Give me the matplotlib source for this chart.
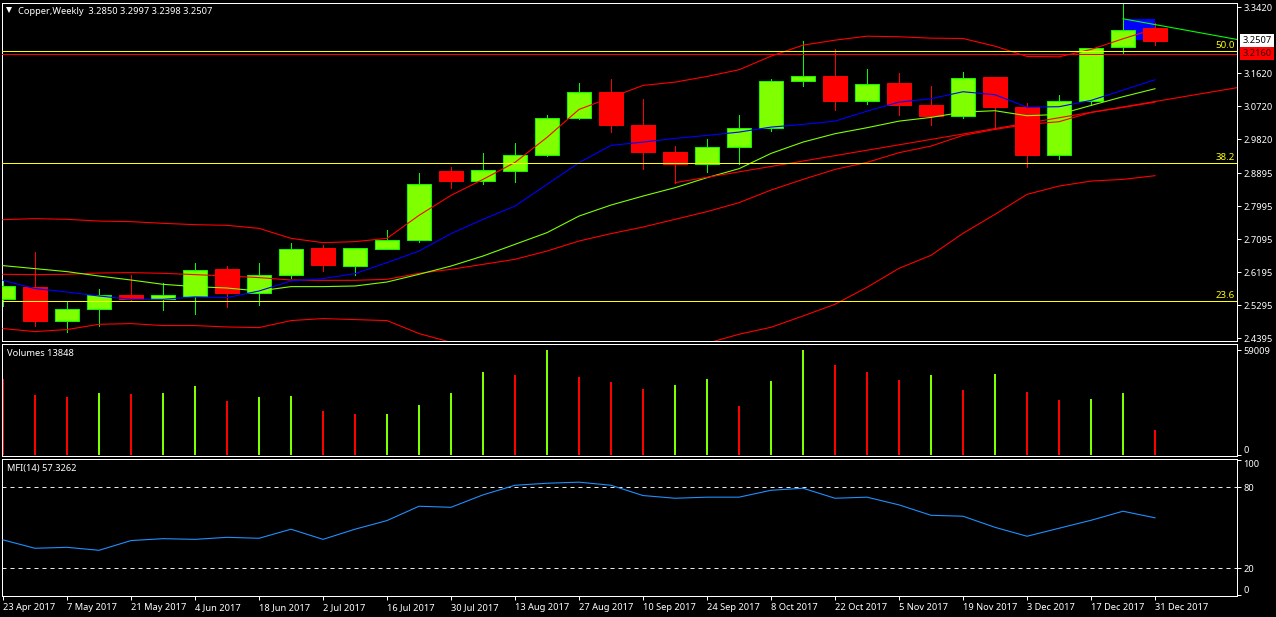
"""
Copper weekly chart, MetaTrader style: candles with moving averages and bands,
volumes and MFI panels.
"""

import numpy as np
import matplotlib
matplotlib.use("Agg")
import matplotlib.pyplot as plt

plt.rcParams["font.family"] = ["Noto Sans", "DejaVu Sans"]

# ── data ─────────────────────────────────────────────────────

opens = [2.5471, 2.5784, 2.4865, 2.5193, 2.5566, 2.5465, 2.5547, 2.6275, 2.5640, 2.6120,
         2.6848, 2.6365, 2.6829, 2.7074, 2.8967, 2.8683, 2.8956, 2.9392, 3.0401, 3.1121,
         3.0221, 2.9485, 2.9147, 2.9610, 3.0128, 3.1410, 3.1557, 3.0865, 3.1347, 3.0766,
         3.0456, 3.1511, 3.0712, 2.9392, 3.0865, 3.2337, 3.2850]
highs = [2.5956, 2.6739, 2.5383, 2.5730, 2.6111, 2.5893, 2.6439, 2.6365, 2.6439, 2.6984,
         2.6930, 2.6867, 2.7339, 2.8893, 2.9076, 2.9458, 2.9730, 3.0475, 3.1347, 3.1475,
         3.0911, 2.9629, 2.9820, 3.0475, 3.1475, 3.2493, 3.2274, 3.1729, 3.1620, 3.1266,
         3.1647, 3.1511, 3.0802, 3.1020, 3.2321, 3.3529, 3.2997]
lows = [2.5274, 2.4729, 2.4565, 2.4729, 2.5438, 2.5165, 2.5056, 2.5247, 2.5302, 2.6030,
        2.6229, 2.6120, 2.6829, 2.7020, 2.8492, 2.8593, 2.8656, 2.9365, 3.0366, 3.0019,
        2.9002, 2.8639, 2.8920, 2.9147, 3.0047, 3.1274, 3.0619, 3.0783, 3.0483, 3.0210,
        3.0401, 3.0112, 2.9065, 2.9283, 3.0747, 3.2165, 3.2398]
closes = [2.5811, 2.4865, 2.5203, 2.5566, 2.5457, 2.5566, 2.6267, 2.5629, 2.6130, 2.6840,
          2.6392, 2.6867, 2.7085, 2.8612, 2.8683, 2.8994, 2.9403, 3.0412, 3.1121, 3.0210,
          2.9466, 2.9147, 2.9621, 3.0139, 3.1421, 3.1557, 3.0865, 3.1339, 3.0756, 3.0447,
          3.1503, 3.0701, 2.9392, 3.0876, 3.2321, 3.2812, 3.2507]

band_upper = [2.7630, 2.7658, 2.7639, 2.7592, 2.7576, 2.7530, 2.7494, 2.7475, 2.7393, 2.7120,
              2.7003, 2.7030, 2.7120, 2.7748, 2.8293, 2.8729, 2.9193, 2.9875, 3.0638, 3.0966,
              3.1293, 3.1383, 3.1538, 3.1721, 3.2092, 3.2392, 3.2528, 3.2637, 3.2621, 3.2583,
              3.2574, 3.2364, 3.2084, 3.2075, 3.2274, 3.2566, 3.2839]
band_lower = [2.4658, 2.4576, 2.4631, 2.4775, 2.4794, 2.4740, 2.4740, 2.4702, 2.4685, 2.4876,
              2.4931, 2.4903, 2.4876, 2.4522, 2.4284, 2.4093, 2.3875, 2.3657, 2.3494, 2.3494,
              2.3684, 2.3957, 2.4257, 2.4503, 2.4693, 2.5002, 2.5321, 2.5784, 2.6302, 2.6657,
              2.7257, 2.7775, 2.8320, 2.8547, 2.8683, 2.8729, 2.8830]
ma_blue = [2.5975, 2.5749, 2.5656, 2.5547, 2.5457, 2.5457, 2.5520, 2.5503, 2.5683, 2.5956,
           2.6021, 2.6158, 2.6458, 2.6774, 2.7249, 2.7639, 2.8001, 2.8593, 2.9185, 2.9657,
           2.9747, 2.9847, 2.9929, 3.0019, 3.0156, 3.0229, 3.0319, 3.0592, 3.0837, 3.0930,
           3.1121, 3.1039, 3.0701, 3.0712, 3.0884, 3.1165, 3.1448]
ma_lime = [2.6376, 2.6294, 2.6212, 2.6092, 2.5983, 2.5866, 2.5803, 2.5765, 2.5683, 2.5803,
           2.5803, 2.5820, 2.5929, 2.6139, 2.6365, 2.6638, 2.6957, 2.7276, 2.7728, 2.8029,
           2.8274, 2.8503, 2.8776, 2.9021, 2.9438, 2.9747, 2.9976, 3.0139, 3.0319, 3.0420,
           3.0565, 3.0603, 3.0466, 3.0502, 3.0747, 3.0985, 3.1203]
ma_red = [2.6139, 2.6130, 2.6139, 2.6174, 2.6185, 2.6166, 2.6130, 2.6092, 2.6049, 2.5983,
          2.5975, 2.5975, 2.6002, 2.6166, 2.6275, 2.6411, 2.6548, 2.6774, 2.7047, 2.7249,
          2.7429, 2.7639, 2.7849, 2.8094, 2.8438, 2.8729, 2.9002, 2.9193, 2.9458, 2.9638,
          2.9929, 3.0093, 3.0229, 3.0303, 3.0556, 3.0693, 3.0837]

fib_levels = [3.2234, 2.9179, 2.5416]
fib_labels = ["50.0", "38.2", "23.6"]
support_level = 3.2160

# trend lines: (bar, price) at each end, both run off to the right edge
trend_red_x = [21, 38.55]
trend_red_y = [2.8639, 3.1230]
trend_green_x = [35, 38.55]
trend_green_y = [3.3112, 3.2550]
blue_box_x = [35, 36]
blue_box_y = [3.2520, 3.3112]

price_ticks = [3.3420, 3.1620, 3.0720, 2.9820, 2.8895, 2.7995, 2.7095, 2.6195, 2.5295, 2.4395]

volumes = [42704, 33714, 32590, 34838, 34276, 34838, 38771, 30343, 32590, 33152,
           24724, 23038, 23100, 28095, 34838, 46638, 44952, 59009, 43828, 41019,
           37085, 39333, 42704, 27533, 41581, 59009, 50571, 46638, 42143, 44952,
           36524, 45514, 35400, 30905, 31466, 34838, 13848]
volume_up = [0, 0, 0, 1, 0, 1, 1, 0, 1, 1, 0, 0, 1, 1, 1, 1, 0, 1, 0, 0,
             0, 1, 1, 0, 1, 1, 0, 0, 0, 1, 0, 1, 0, 0, 1, 1, 0]

mfi = [41.0, 34.8, 35.5, 33.3, 40.5, 41.9, 41.4, 42.9, 42.2, 48.9,
       41.4, 48.9, 55.3, 65.9, 65.1, 74.3, 81.4, 82.9, 83.7, 81.4,
       73.8, 71.8, 72.6, 72.6, 77.7, 79.2, 71.8, 72.6, 66.9, 59.2,
       58.5, 50.3, 43.7, 49.6, 55.5, 62.2, 57.33]
mfi_levels = [80, 20]

date_labels = ["23 Apr 2017", "7 May 2017", "21 May 2017", "4 Jun 2017", "18 Jun 2017",
               "2 Jul 2017", "16 Jul 2017", "30 Jul 2017", "13 Aug 2017", "27 Aug 2017",
               "10 Sep 2017", "24 Sep 2017", "8 Oct 2017", "22 Oct 2017", "5 Nov 2017",
               "19 Nov 2017", "3 Dec 2017", "17 Dec 2017", "31 Dec 2017"]

# ── layout ───────────────────────────────────────────────────

W, H = 1276, 617
RED, LIME, GREEN, BLUE, YELLOW = "#ff0000", "#7fff00", "#00ff00", "#0000ff", "#ffff00"
FS = 6.7
PX = 0.72   # one pixel in points


def add_panel(fig, top, bottom, left=2.5, right=1236.5):
    ax = fig.add_axes([left / W, 1 - bottom / H, (right - left) / W, (bottom - top) / H])
    ax.set_facecolor("black")
    for s in ax.spines.values():
        s.set_color("white")
        s.set_linewidth(PX)
    ax.set_xlim(-0.0156, 38.547)
    ax.set_xticks([])
    ax.yaxis.tick_right()
    ax.tick_params(axis="y", colors="white", labelsize=FS, length=3, width=PX, pad=2)
    return ax


def draw_line(ax, x, y, color, z=5):
    ax.plot(x, y, color=color, lw=0.8, zorder=z)


fig = plt.figure(figsize=(W / 100, H / 100), dpi=100, facecolor="black")
bars = np.arange(len(closes))

# ── price panel ──────────────────────────────────────────────

ax_price = add_panel(fig, 2.5, 341)
ax_price.set_ylim(2.4319, 3.3556)
ax_price.set_yticks(price_ticks, [f"{t:.4f}" for t in price_ticks])

ax_price.fill_between(blue_box_x, blue_box_y[0], blue_box_y[1], color=BLUE, lw=0, zorder=1)

for i in bars:
    is_up = closes[i] >= opens[i]
    wick = GREEN if is_up else RED
    ax_price.vlines(i, lows[i], highs[i], color=wick, lw=PX, antialiased=False, zorder=2)
    body_lo, body_hi = sorted((opens[i], closes[i]))
    ax_price.bar(i, body_hi - body_lo, bottom=body_lo, width=0.77,
                 color=LIME if is_up else RED, edgecolor=wick, linewidth=PX, zorder=3)

draw_line(ax_price, bars, band_upper, RED)
draw_line(ax_price, bars, band_lower, RED)
draw_line(ax_price, bars, ma_red, RED)
draw_line(ax_price, bars, ma_lime, LIME)
draw_line(ax_price, bars, ma_blue, BLUE)
draw_line(ax_price, trend_red_x, trend_red_y, RED)
draw_line(ax_price, trend_green_x, trend_green_y, GREEN)

for level, label in zip(fib_levels, fib_labels):
    ax_price.axhline(level, color=YELLOW, lw=PX, zorder=6)
    ax_price.annotate(label, (1, level), xycoords=("axes fraction", "data"),
                      xytext=(-1.0, 0.6), textcoords="offset points", ha="right", va="bottom",
                      color=YELLOW, fontsize=FS + 0.3, zorder=7)
ax_price.axhline(support_level, color=RED, lw=PX, zorder=6)

# current price and level flags on the scale
for value, box, txt in [(closes[-1], "white", "black"), (support_level, RED, "#300000")]:
    ax_price.annotate(f"{value:.4f}", (1, value), xycoords=("axes fraction", "data"),
                      xytext=(4.2, 0), textcoords="offset points", ha="left", va="center",
                      color=txt, fontsize=FS, annotation_clip=False, zorder=8,
                      bbox=dict(boxstyle="square,pad=0.22", fc=box, ec="none"))

ax_price.plot(0.0053, 0.9775, marker="v", ms=4, color="white", mew=0,
              transform=ax_price.transAxes, zorder=8)
ax_price.text(15.5 / 1234, 0.9745, "Copper,Weekly  3.2850 3.2997 3.2398 3.2507",
              transform=ax_price.transAxes, color="white", fontsize=FS, va="center", ha="left")

# ── volumes panel ────────────────────────────────────────────

ax_vol = add_panel(fig, 343.5, 456)
ax_vol.set_ylim(-562, 62662)
ax_vol.set_yticks([0, max(volumes)], ["0", str(max(volumes))])
ax_vol.get_yticklabels()[0].set_va("bottom")
ax_vol.vlines(bars, 0, volumes, colors=[LIME if up else RED for up in volume_up],
              lw=2 * PX, antialiased=False)
ax_vol.text(0.0035, 0.915, "Volumes 13848", transform=ax_vol.transAxes, color="white",
            fontsize=FS, va="center", ha="left")

# ── MFI panel ────────────────────────────────────────────────

ax_mfi = add_panel(fig, 458.5, 596)
ax_mfi.set_ylim(-0.5, 101.2)
ax_mfi.set_yticks([100, 80, 20, 0], ["100", "80", "20", "0"])
ax_mfi.get_yticklabels()[0].set_va("top")
ax_mfi.get_yticklabels()[3].set_va("bottom")
for level in mfi_levels:
    ax_mfi.axhline(level, color="#e8e8e8", lw=PX, dashes=(4, 4))
draw_line(ax_mfi, bars, mfi, "#1e90ff")
ax_mfi.text(0.0035, 0.93, "MFI(14) 57.3262", transform=ax_mfi.transAxes, color="white",
            fontsize=FS, va="center", ha="left")

ax_mfi.set_xticks(bars[::2], date_labels, ha="left")
ax_mfi.tick_params(axis="x", colors="white", labelsize=FS, length=3, width=PX, pad=2)

fig.savefig("out.png", dpi=100, facecolor="black")
